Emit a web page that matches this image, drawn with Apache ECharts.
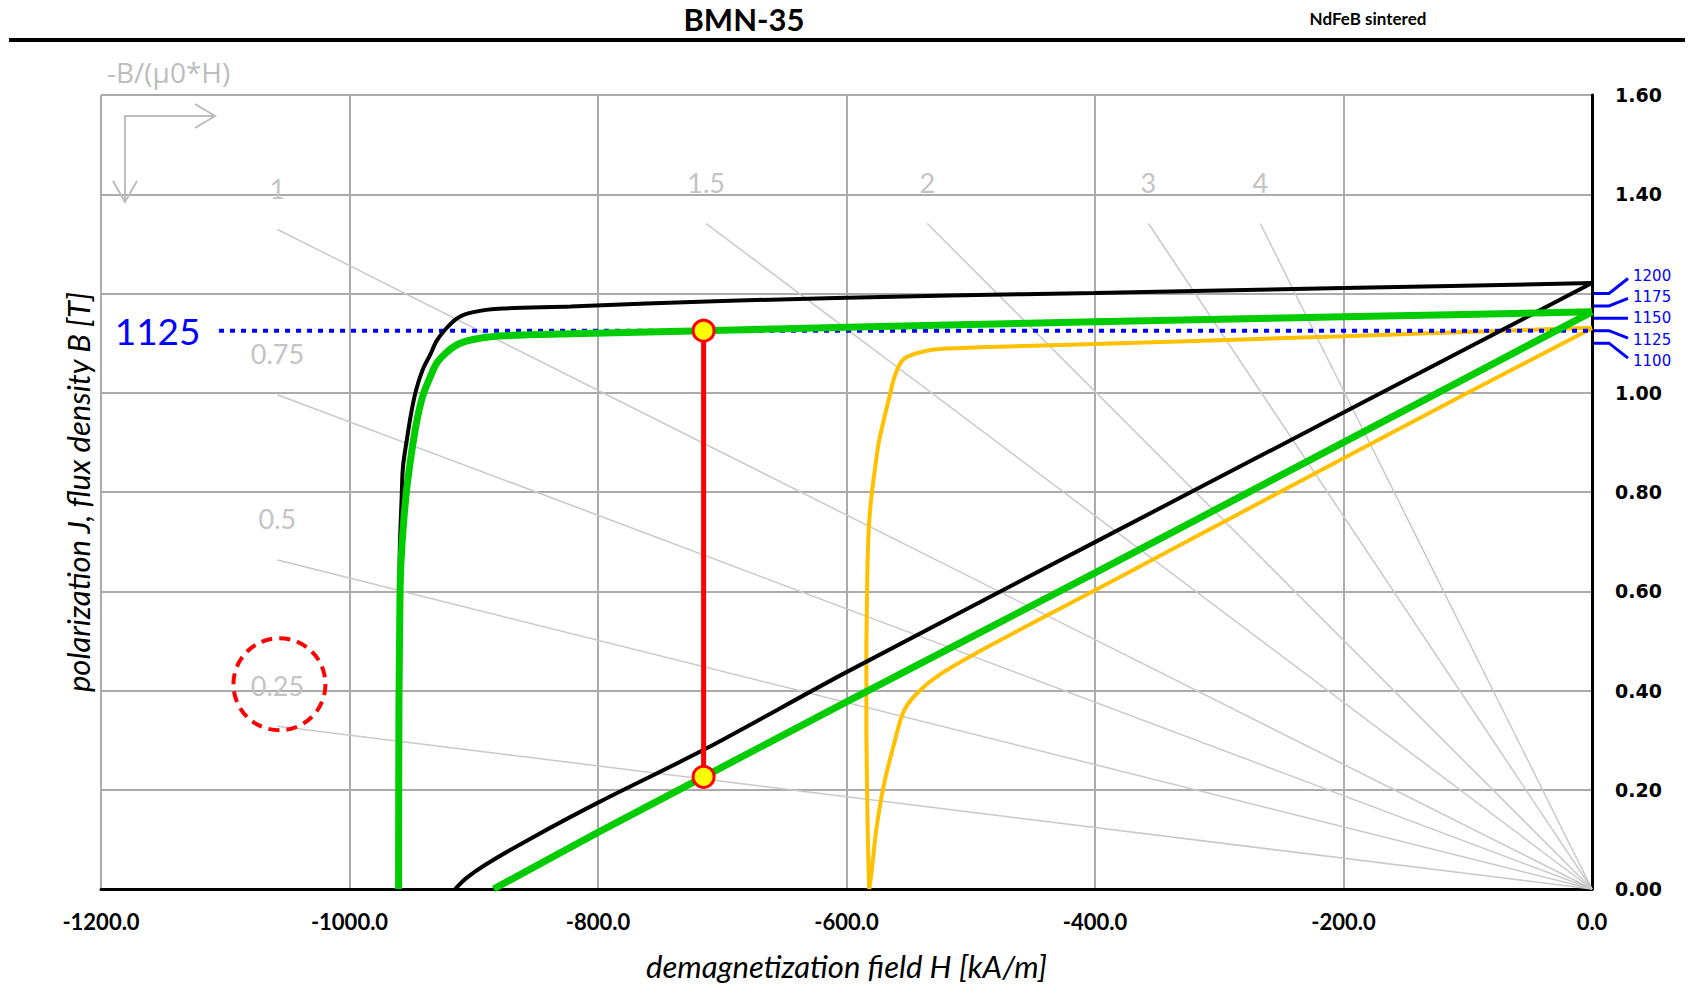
<!DOCTYPE html>
<html>
<head>
<meta charset="utf-8">
<title>BMN-35</title>
<script src="https://cdn.jsdelivr.net/npm/echarts@6/dist/echarts.min.js"></script>
<style>
html, body { margin: 0; padding: 0; background: #fff; }
#main { width: 1691px; height: 987px; }
</style>
</head>
<body>
<div id="main"></div>
<script>
// H in kA/m, J / B in T
var xTicks = [-1200, -1000, -800, -600, -400, -200, 0];
var yTicks = [0, 0.2, 0.4, 0.6, 0.8, 1.0, 1.2, 1.4, 1.6];
// 1.20 is left blank, the blue scale sits there
var yTickLabels = ['0.00', '0.20', '0.40', '0.60', '0.80', '1.00', '', '1.40', '1.60'];

// black curves
var blackJ_H = [0, -200, -400, -517, -700, -822, -876, -890, -906, -914, -922, -930, -935, -941, -946, -950, -954, -957, -958, -959.6, -960.2, -960.4, -960.5];
var blackJ_B = [1.221, 1.211, 1.201, 1.196, 1.185, 1.174, 1.170, 1.167, 1.159, 1.149, 1.130, 1.104, 1.077, 1.047, 1.009, 0.964, 0.903, 0.850, 0.790, 0.676, 0.5, 0.3, 0];
var blackB_H = [0, -200, -400, -600, -713, -800, -854, -890, -906, -915];
var blackB_B = [1.221, 0.960, 0.699, 0.437, 0.283, 0.174, 0.102, 0.050, 0.022, 0];

// green curves
var greenJ_H = [0, -200, -400, -600, -715, -822, -876, -895, -906, -914, -922, -930, -935, -941, -946, -950, -954, -957, -959, -959.6, -960.2, -960.5];
var greenJ_B = [1.163, 1.153, 1.143, 1.132, 1.125, 1.119, 1.115, 1.110, 1.104, 1.096, 1.081, 1.059, 1.032, 0.994, 0.941, 0.880, 0.805, 0.721, 0.631, 0.525, 0.373, 0];
var greenB_H = [0, -200, -400, -600, -715, -800, -884];
var greenB_B = [1.163, 0.900, 0.637, 0.377, 0.226, 0.114, 0];

// orange curves
var orangeJ_H = [0, -200, -400, -485, -525, -538, -549, -554, -558, -562, -566, -570, -574, -577, -580, -582, -583, -583.5, -584, -584, -583.3, -582.5, -581.7];
var orangeJ_B = [1.131, 1.114, 1.098, 1.092, 1.088, 1.083, 1.075, 1.068, 1.053, 1.027, 0.986, 0.945, 0.900, 0.848, 0.789, 0.729, 0.662, 0.588, 0.477, 0.328, 0.179, 0.068, 0];
var orangeB_H = [0, -100, -200, -400, -484, -525, -543, -554, -562, -570, -576, -580, -581.7];
var orangeB_B = [1.13, 1.0, 0.868, 0.602, 0.491, 0.432, 0.395, 0.358, 0.29, 0.209, 0.12, 0.03, 0];

// permeance lines -B/(mu0*H), drawn from their start point to the origin
var permLabels = ['1', '1.5', '2', '3', '4', '0.75', '0.5', '0.25'];
var permH = [-1058, -713, -535, -357, -267, -1058, -1058, -1058];
var permB = [1.329, 1.341, 1.341, 1.341, 1.341, 0.996, 0.663, 0.328];

// working point
var workH = -715;
var workJ = 1.125;
var workB = 0.226;

// blue reference level
var refStartH = -1105;
var refLevel = 1.125;
var refLabel = '1125';

// blue scale on the right
var markVals = [1.2, 1.175, 1.15, 1.125, 1.1];
var markLabels = ['1200', '1175', '1150', '1125', '1100'];

function pairs(h, b) {
    return h.map(function (v, i) { return [v, b[i]]; });
}

var chart = echarts.init(document.getElementById('main'), null, { renderer: 'svg' });

var series = [];

permLabels.forEach(function (lab, i) {
    series.push({
        type: 'line',
        silent: true,
        z: 1,
        symbol: 'circle',
        symbolSize: 1,
        showAllSymbol: true,
        itemStyle: { color: 'rgba(0,0,0,0)' },
        lineStyle: { color: '#c9c9c9', width: 1.5 },
        data: [
            {
                value: [permH[i], permB[i]],
                label: {
                    show: true, formatter: lab, position: 'top', distance: 27,
                    color: '#c4c4c4', fontSize: 27, fontFamily: 'Lato'
                }
            },
            [0, 0]
        ]
    });
});

series.push({ // orange J
    type: 'line', z: 2, smooth: 0.3, symbol: 'none',
    lineStyle: { color: '#ffc000', width: 4 },
    data: pairs(orangeJ_H, orangeJ_B)
});
series.push({ // orange B
    type: 'line', z: 2, smooth: 0.3, symbol: 'none',
    lineStyle: { color: '#ffc000', width: 4 },
    data: pairs(orangeB_H, orangeB_B)
});
series.push({ // blue dotted level
    type: 'line', z: 3, silent: true,
    symbol: 'circle', symbolSize: 1, showAllSymbol: true,
    itemStyle: { color: 'rgba(0,0,0,0)' },
    lineStyle: { color: '#0000ff', width: 4, type: [5, 6], cap: 'butt' },
    data: [
        {
            value: [refStartH, refLevel],
            label: {
                show: true, formatter: refLabel, position: 'left', distance: 18,
                color: '#0000ff', fontSize: 37, fontFamily: 'Lato'
            }
        },
        [0, refLevel]
    ]
});
series.push({ // black J
    type: 'line', z: 4, smooth: 0.3, symbol: 'none',
    lineStyle: { color: '#000000', width: 4 },
    data: pairs(blackJ_H, blackJ_B)
});
series.push({ // black B
    type: 'line', z: 4, smooth: 0.3, symbol: 'none',
    lineStyle: { color: '#000000', width: 4 },
    data: pairs(blackB_H, blackB_B)
});
series.push({ // green J
    type: 'line', z: 5, smooth: 0.3, symbol: 'none',
    lineStyle: { color: '#00cc00', width: 7 },
    data: pairs(greenJ_H, greenJ_B)
});
series.push({ // green B
    type: 'line', z: 5, smooth: 0.3, symbol: 'none',
    lineStyle: { color: '#00cc00', width: 7 },
    data: pairs(greenB_H, greenB_B)
});
series.push({ // working point
    type: 'line', z: 6,
    symbol: 'circle', symbolSize: 21,
    itemStyle: { color: '#ffff00', borderColor: '#ff0000', borderWidth: 3 },
    lineStyle: { color: '#ff0000', width: 5 },
    data: [[workH, workJ], [workH, workB]]
});

var option = {
    animation: false,
    backgroundColor: '#ffffff',
    grid: { left: 101, right: 99, top: 95, bottom: 98 },
    xAxis: {
        type: 'value',
        min: xTicks[0],
        max: xTicks[xTicks.length - 1],
        interval: xTicks[1] - xTicks[0],
        name: 'demagnetization field H [kA/m]',
        nameLocation: 'middle',
        nameGap: 61,
        nameTextStyle: { fontFamily: 'Lato', fontStyle: 'italic', fontSize: 31, color: '#000' },
        axisLine: { onZero: false, lineStyle: { color: '#000', width: 3 } },
        axisTick: { show: false },
        axisLabel: {
            margin: 21, color: '#000', fontFamily: 'Lato', fontWeight: 'bold', fontSize: 22,
            formatter: function (v) { return v.toFixed(1); }
        },
        splitLine: { show: true, lineStyle: { color: '#ababab', width: 2 } }
    },
    yAxis: {
        type: 'value',
        position: 'right',
        min: yTicks[0],
        max: yTicks[yTicks.length - 1],
        interval: yTicks[1] - yTicks[0],
        axisLine: { show: true, onZero: false, lineStyle: { color: '#000', width: 3 } },
        axisTick: { show: false },
        axisLabel: {
            margin: 23, color: '#000', fontFamily: 'DejaVu Sans', fontWeight: 'bold', fontSize: 19,
            align: 'left',
            formatter: function (v) {
                var i = Math.round((v - yTicks[0]) / (yTicks[1] - yTicks[0]));
                return yTickLabels[i] || '';
            }
        },
        splitLine: { show: true, lineStyle: { color: '#ababab', width: 2 } }
    },
    series: series
};

chart.setOption(option);

function px(h, b) {
    return chart.convertToPixel({ gridIndex: 0 }, [h, b]);
}

var tl = px(xTicks[0], yTicks[yTicks.length - 1]);
var right = px(0, 0)[0];
var gray = '#bdbdbd';
var g = [];

function txt(x, y, s, style) {
    var st = Object.assign({
        x: x, y: y, text: s,
        textAlign: 'center', align: 'center',
        textVerticalAlign: 'middle', verticalAlign: 'middle',
        fill: '#000', fontFamily: 'Lato'
    }, style || {});
    return { type: 'text', z: 10, style: st };
}

// header
g.push(txt(744, 19, 'BMN-35', { fontSize: 31, fontWeight: 'bold' }));
g.push(txt(1368, 18, 'NdFeB sintered', { fontSize: 17, fontWeight: 'bold' }));
g.push({ type: 'line', z: 10, shape: { x1: 9, y1: 40, x2: 1685, y2: 40 }, style: { stroke: '#000', lineWidth: 4 } });

// permeance title and arrows
g.push(txt(tl[0] + 6, tl[1] - 23, '-B/(\u03bc0*H)', {
    textAlign: 'left', align: 'left', fill: gray, fontFamily: 'Open Sans', fontSize: 28
}));
var ax = tl[0] + 24, ay = tl[1] + 21;
g.push({ type: 'polyline', z: 10, shape: { points: [[ax, ay + 86], [ax, ay], [ax + 90, ay]] }, style: { stroke: gray, lineWidth: 2, fill: null } });
g.push({ type: 'polyline', z: 10, shape: { points: [[ax + 70, ay - 12], [ax + 90, ay], [ax + 70, ay + 12]] }, style: { stroke: gray, lineWidth: 2, fill: null } });
g.push({ type: 'polyline', z: 10, shape: { points: [[ax - 12, ay + 65], [ax, ay + 86], [ax + 12, ay + 65]] }, style: { stroke: gray, lineWidth: 2, fill: null } });

// y axis name on the left
g.push({
    type: 'text', z: 10, x: 78, y: 492, rotation: Math.PI / 2,
    style: {
        x: 0, y: 0, text: 'polarization J, flux density B [T]',
        textAlign: 'center', align: 'center', textVerticalAlign: 'middle', verticalAlign: 'middle',
        fill: '#000', fontFamily: 'Lato', fontStyle: 'italic', fontSize: 31
    }
});

// red dashed circle around the 0.25 label
var c = px(permH[7], permB[7]);
g.push({
    type: 'circle', z: 10,
    shape: { cx: c[0] + 2, cy: c[1] - 42, r: 46 },
    style: { stroke: '#ff0000', lineWidth: 4, fill: null, lineDash: [11, 7] }
});

// blue scale marks on the right
markVals.forEach(function (v, i) {
    var y = px(0, v)[1];
    var k = i - 2;
    var pts = k === 0
        ? [[right + 2, y], [right + 36, y]]
        : [[right + 2, y], [right + 17, y], [right + 36, y + k * 7.5]];
    g.push({ type: 'polyline', z: 10, shape: { points: pts }, style: { stroke: '#0000ff', lineWidth: 3, fill: null } });
    g.push(txt(right + 41, y + k * 9, markLabels[i], {
        textAlign: 'left', align: 'left', fill: '#0000ff', fontFamily: 'DejaVu Sans', fontSize: 15
    }));
});

chart.setOption({ graphic: g });
</script>
</body>
</html>
